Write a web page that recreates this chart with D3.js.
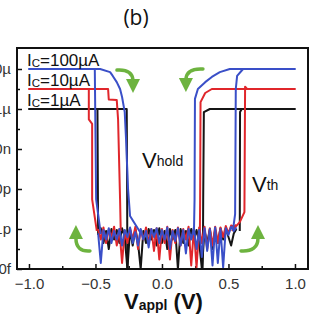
<!DOCTYPE html>
<html>
<head>
<meta charset="utf-8">
<script src="https://cdn.jsdelivr.net/npm/d3@7"></script>
<style>
body { margin: 0; background: #fff; }
svg { display: block; }
</style>
</head>
<body>
<div id="chart"></div>
<script>
// compliance currents and labels
var complianceI = [1e-4, 1e-5, 1e-6];
var legendText = ["100\u00b5A", "10\u00b5A", "1\u00b5A"];

var xTicks = [-1.0, -0.5, 0.0, 0.5, 1.0];
var xMinor = [-0.75, -0.25, 0.25, 0.75];
var yTicks = [1e-14, 1e-12, 1e-10, 1e-8, 1e-6, 1e-4];
var yTickLabels = ["10f", "1p", "100p", "10n", "1\u00b5", "100\u00b5"];
var yMinor = [1e-13, 1e-11, 1e-9, 1e-7, 1e-5];

// low current (off state) noise
var lowV = [-0.48,-0.46,-0.44,-0.42,-0.40,-0.38,-0.36,-0.34,-0.32,-0.30,-0.28,-0.26,-0.24,-0.22,-0.20,-0.18,-0.16,-0.14,-0.12,-0.10,-0.08,-0.06,-0.04,-0.02,0,0.02,0.04,0.06,0.08,0.10,0.12,0.14,0.16,0.18,0.20,0.22,0.24,0.26,0.28,0.30,0.32,0.34,0.36,0.38,0.40,0.42,0.44,0.46,0.48,0.50,0.52,0.54,0.56];

var blackLow = [5e-13,1.1e-12,2e-13,8e-13,1e-13,1e-12,3e-13,9e-13,2e-13,1.1e-12,4e-13,1e-14,9e-13,1.5e-13,1e-12,2e-13,1e-14,8e-13,2e-13,1e-12,3e-13,9e-13,1.5e-13,1.1e-12,2e-13,8e-13,1e-13,1e-12,3e-13,9e-13,1e-14,1e-12,2e-13,8e-13,1.5e-13,1e-12,3e-13,9e-13,2e-13,1e-14,8e-13,2e-13,1e-12,1e-13,9e-13,2e-13,1.1e-12,3e-13,1e-12,4e-13,1.5e-13,6e-13,1e-12];
var redLow = [1e-12,3e-13,1.2e-12,2e-13,9e-13,4e-13,1.3e-12,1.5e-13,1e-12,2e-14,8e-13,2e-13,1.1e-12,3e-13,1.3e-12,1e-13,9e-13,3e-13,1.2e-12,2e-13,1e-12,8e-14,1.1e-12,3e-14,1e-12,2e-13,1.3e-12,3e-14,9e-13,2e-13,1.2e-12,1.5e-13,1e-12,3e-13,1.3e-12,1.5e-14,1e-12,1.2e-14,1.2e-12,2e-13,1.3e-12,1e-13,1.1e-12,1.5e-13,1.3e-12,2e-13,1.2e-12,4e-13,1.4e-12,6e-13,1.5e-12,1.3e-12,1.6e-12];
var blueLow = [6e-13,2e-14,9e-13,3e-13,1.1e-12,2e-13,8e-13,3e-13,1e-12,1.5e-13,9e-13,4e-13,1.2e-12,2e-13,7e-13,1.5e-13,1e-12,3e-13,8e-13,1.2e-13,1e-12,4e-13,1.1e-12,2e-13,9e-13,3e-13,1.2e-12,1e-13,8e-13,2.5e-13,1.1e-12,1.5e-13,9e-13,6e-14,1e-12,3e-13,1.2e-12,1e-13,9e-13,4e-14,1.1e-12,8e-14,1e-12,1.5e-14,1.2e-12,2e-14,1e-12,1.2e-14,1.1e-12,5e-13,1.3e-12,8e-13,1.2e-12];

// switching branches (sweep order)
var blackNegV = [-0.48, -0.485, -1.0, -0.485, -0.265, -0.262, -0.26, -0.255];
var blackNegI = [5e-13, 1e-6, 1e-6, 1e-6, 1e-6, 1e-10, 8e-15, 5e-13];
var blackPosV = [0.585, 0.587, 0.60, 1.0, 0.36, 0.315, 0.31, 0.308, 0.305];
var blackPosI = [8e-13, 7e-7, 1e-6, 1e-6, 1e-6, 7e-7, 3e-11, 1e-13, 8e-15];

var redNegV = [-0.49, -0.525, -0.525, -0.55, -0.55, -1.0, -0.55, -0.405, -0.40, -0.34, -0.33, -0.315, -0.31];
var redNegI = [8e-13, 3e-11, 1.8e-7, 3e-7, 1e-5, 1e-5, 1e-5, 1e-5, 3e-6, 2.8e-6, 3e-7, 3e-11, 8e-13];
var redPosV = [0.525, 0.585, 0.62, 0.625, 0.64, 1.0, 0.375, 0.325, 0.29, 0.287, 0.285];
var redPosI = [8e-13, 2.2e-12, 7e-12, 1.3e-5, 1e-5, 1e-5, 1e-5, 6.3e-6, 2.2e-6, 3e-11, 6e-13];

var blueNegV = [-0.46, -0.495, -0.505, -1.0, -0.505, -0.465, -0.39, -0.37, -0.34, -0.315, -0.30, -0.28, -0.27, -0.255, -0.24, -0.165];
var blueNegI = [5.6e-13, 3e-11, 1e-4, 1e-4, 1e-4, 1e-4, 7e-5, 4.5e-5, 2.2e-5, 1e-5, 4e-6, 7e-7, 3e-8, 1e-10, 4.5e-12, 7e-13];
var bluePosV = [0.535, 0.55, 0.555, 0.565, 0.61, 1.0, 0.51, 0.435, 0.375, 0.325, 0.27, 0.248, 0.245, 0.24];
var bluePosI = [1e-12, 5.6e-12, 1e-5, 4.5e-5, 1e-4, 1e-4, 1e-4, 7e-5, 4e-5, 2.2e-5, 1e-5, 3.2e-6, 3e-11, 5e-13];

var colors = {black: "#151515", red: "#e0262b", blue: "#3a4fc8"};
var green = "#6db33f";

var width = 320, height = 320;
var plot = {left: 17, right: 308, top: 48, bottom: 269};

var svg = d3.select("#chart").append("svg")
    .attr("width", width)
    .attr("height", height)
    .style("font-family", "'Liberation Sans', Arial, sans-serif");

var x = d3.scaleLinear().domain([-1.09, 1.098]).range([plot.left, plot.right]);
var y = d3.scaleLog().domain([1e-14, Math.pow(10, -2.95)]).range([plot.bottom, plot.top]);

svg.append("defs").append("clipPath").attr("id", "clip")
    .append("rect")
    .attr("x", plot.left).attr("y", plot.top)
    .attr("width", plot.right - plot.left).attr("height", plot.bottom - plot.top);

// title
svg.append("text")
    .attr("x", 136).attr("y", 25)
    .attr("text-anchor", "middle")
    .style("font-family", "'Open Sans', 'Noto Sans', sans-serif")
    .style("font-size", "21px")
    .attr("fill", "#111")
    .text("(b)");

// axes
svg.append("g")
    .attr("transform", "translate(0," + plot.bottom + ")")
    .call(d3.axisBottom(x).tickValues(xTicks).tickFormat(d3.format(".1f"))
        .tickSizeInner(-5).tickSizeOuter(0).tickPadding(9));
svg.append("g")
    .attr("transform", "translate(0," + plot.bottom + ")")
    .call(d3.axisBottom(x).tickValues(xMinor).tickFormat("").tickSizeInner(-3).tickSizeOuter(0));

// y labels are cropped by the left edge, as in the original figure
svg.append("g")
    .attr("transform", "translate(" + plot.left + ",0)")
    .call(d3.axisLeft(y).tickValues(yTicks).tickFormat(function(d, i) { return yTickLabels[i]; })
        .tickSizeInner(-5).tickSizeOuter(0).tickPadding(6));
svg.append("g")
    .attr("transform", "translate(" + plot.left + ",0)")
    .call(d3.axisLeft(y).tickValues(yMinor).tickFormat("").tickSizeInner(-3).tickSizeOuter(0));

svg.selectAll(".domain").remove();
svg.selectAll(".tick line").attr("stroke", "#111").attr("stroke-width", 1.5);
svg.selectAll(".tick text").style("font-size", "15px").attr("fill", "#333")
    .style("font-family", "'Liberation Sans', Arial, sans-serif");

// curves
var line = d3.line()
    .x(function(d) { return x(d[0]); })
    .y(function(d) { return y(d[1]); });

function pairs(vs, is) {
    return vs.map(function(v, i) { return [v, is[i]]; });
}

var series = [
    {color: colors.black, parts: [pairs(lowV, blackLow), pairs(blackNegV, blackNegI), pairs(blackPosV, blackPosI)]},
    {color: colors.red, parts: [pairs(lowV, redLow), pairs(redNegV, redNegI), pairs(redPosV, redPosI)]},
    {color: colors.blue, parts: [pairs(lowV, blueLow), pairs(blueNegV, blueNegI), pairs(bluePosV, bluePosI)]}
];

var curves = svg.append("g").attr("clip-path", "url(#clip)");
series.forEach(function(s) {
    curves.selectAll(null)
        .data(s.parts)
        .join("path")
        .attr("d", line)
        .attr("fill", "none")
        .attr("stroke", s.color)
        .attr("stroke-width", 2)
        .attr("stroke-linejoin", "round");
});

// frame
svg.append("rect")
    .attr("x", plot.left).attr("y", plot.top)
    .attr("width", plot.right - plot.left).attr("height", plot.bottom - plot.top)
    .attr("fill", "none").attr("stroke", "#111").attr("stroke-width", 2);

// legend labels sitting on the compliance lines
var legend = svg.append("g");
complianceI.forEach(function(c, i) {
    var t = legend.append("text")
        .attr("x", x(-1.0) - 2)
        .attr("y", y(c) - 3)
        .style("font-size", "17px")
        .attr("fill", "#111");
    t.append("tspan").text("I");
    t.append("tspan").style("font-size", "11.5px").attr("dy", 1).text("C");
    t.append("tspan").attr("dy", -1).text("=" + legendText[i]);
});

// annotations
function subLabel(v, cur, main, sub) {
    var t = svg.append("text")
        .attr("x", x(v)).attr("y", y(cur))
        .style("font-size", "22px")
        .attr("fill", "#111");
    t.append("tspan").text(main);
    t.append("tspan").style("font-size", "14px").attr("dy", -2).text(sub);
}
subLabel(-0.15, 1.1e-9, "V", "hold");
subLabel(0.677, 7e-11, "V", "th");

// x axis title
var xt = svg.append("text")
    .attr("x", 124).attr("y", 309)
    .style("font-weight", "bold")
    .style("font-size", "22px")
    .attr("fill", "#111");
xt.append("tspan").text("V");
xt.append("tspan").style("font-size", "14px").attr("dy", 1).text("appl");
xt.append("tspan").attr("dy", -1).text(" (V)");

// green sweep arrows
var arrows = [
    {v: -0.218, i: 6.3e-6, shaft: "M-16,-23 Q-1,-24 0,-13", head: "M-7,-14 L7,-14 L0,0 Z"},
    {v: 0.18, i: 7.1e-6, shaft: "M17,-23 Q1,-24 0,-13", head: "M-7,-14 L7,-14 L0,0 Z"},
    {v: -0.647, i: 1.6e-12, shaft: "M14,26 Q0,27 0,13", head: "M-7,14 L7,14 L0,0 Z"},
    {v: 0.722, i: 1.6e-12, shaft: "M-17,26 Q0,27 0,13", head: "M-7,14 L7,14 L0,0 Z"}
];
var ag = svg.selectAll(".arrow")
    .data(arrows)
    .join("g")
    .attr("class", "arrow")
    .attr("transform", function(d) { return "translate(" + x(d.v) + "," + y(d.i) + ")"; });
ag.append("path").attr("d", function(d) { return d.shaft; })
    .attr("fill", "none").attr("stroke", green).attr("stroke-width", 3.5).attr("stroke-linecap", "round");
ag.append("path").attr("d", function(d) { return d.head; })
    .attr("fill", green);
</script>
</body>
</html>
